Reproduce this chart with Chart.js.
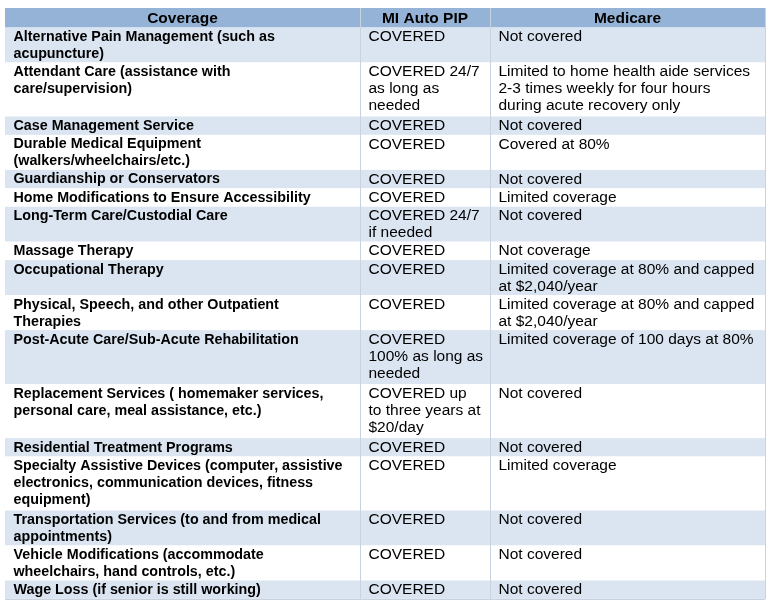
<!DOCTYPE html>
<html>
<head>
<meta charset="utf-8">
<script src="https://cdn.jsdelivr.net/npm/chart.js@4"></script>
<style>
	html, body { margin: 0; padding: 0; background: #ffffff; }
	#tableChart { display: block; }
</style>
</head>
<body>
<canvas id="tableChart" width="772" height="607"></canvas>
<script>
const headers = ['Coverage', 'MI Auto PIP', 'Medicare'];

const coverage = [
	'Alternative Pain Management (such as\nacupuncture)',
	'Attendant Care (assistance with\ncare/supervision)',
	'Case Management Service',
	'Durable Medical Equipment\n(walkers/wheelchairs/etc.)',
	'Guardianship or Conservators',
	'Home Modifications to Ensure Accessibility',
	'Long-Term Care/Custodial Care',
	'Massage Therapy',
	'Occupational Therapy',
	'Physical, Speech, and other Outpatient\nTherapies',
	'Post-Acute Care/Sub-Acute Rehabilitation',
	'Replacement Services ( homemaker services,\npersonal care, meal assistance, etc.)',
	'Residential Treatment Programs',
	'Specialty Assistive Devices (computer, assistive\nelectronics, communication devices, fitness\nequipment)',
	'Transportation Services (to and from medical\nappointments)',
	'Vehicle Modifications (accommodate\nwheelchairs, hand controls, etc.)',
	'Wage Loss (if senior is still working)'
];

const autoPip = [
	'COVERED',
	'COVERED 24/7\nas long as\nneeded',
	'COVERED',
	'COVERED',
	'COVERED',
	'COVERED',
	'COVERED 24/7\nif needed',
	'COVERED',
	'COVERED',
	'COVERED',
	'COVERED\n100% as long as\nneeded',
	'COVERED up\nto three years at\n$20/day',
	'COVERED',
	'COVERED',
	'COVERED',
	'COVERED',
	'COVERED'
];

const medicare = [
	'Not covered',
	'Limited to home health aide services\n2-3 times weekly for four hours\nduring acute recovery only',
	'Not covered',
	'Covered at 80%',
	'Not covered',
	'Limited coverage',
	'Not covered',
	'Not coverage',
	'Limited coverage at 80% and capped\nat $2,040/year',
	'Limited coverage at 80% and capped\nat $2,040/year',
	'Limited coverage of 100 days at 80%',
	'Not covered',
	'Not covered',
	'Limited coverage',
	'Not covered',
	'Not covered',
	'Not covered'
];

// layout (in scale units, same as px here)
const colEdges = [5, 360, 490, 765];
const headerTop = 8;
const headerHeight = 19.5;
const rowHeightByLines = [0, 18.4, 35, 54];
const lineStep = 17;
const cellPad = 8.5;

const headerColor = '#95b3d7';
const bandColor = '#dbe5f1';
const gridColor = '#c9d2df';
const textColor = '#000000';

const bodyFont = '15.5px "Liberation Sans", Arial, sans-serif';
const firstColFont = 'bold 14.3px "Liberation Sans", Arial, sans-serif';
const headerFont = 'bold 15.5px "Liberation Sans", Arial, sans-serif';

// row extents from the number of text lines in each row
const rows = coverage.map((c, i) => [c, autoPip[i], medicare[i]]);
const rowSpans = [];
let cursor = headerTop + headerHeight;
rows.forEach(cells => {
	const lines = Math.max(...cells.map(t => t.split('\n').length));
	const h = rowHeightByLines[lines];
	rowSpans.push([cursor, cursor + h]);
	cursor += h;
});

const tablePlugin = {
	id: 'tablePlugin',
	afterDraw(chart) {
		const ctx = chart.ctx;
		const x = chart.scales.x;
		const y = chart.scales.y;
		const left = x.getPixelForValue(colEdges[0]);
		const right = x.getPixelForValue(colEdges[3]);

		ctx.save();

		// header band
		const hTop = y.getPixelForValue(headerTop);
		const hBot = y.getPixelForValue(headerTop + headerHeight);
		ctx.fillStyle = headerColor;
		ctx.fillRect(left, hTop, right - left, hBot - hTop);

		// row bands
		rowSpans.forEach((span, i) => {
			const top = y.getPixelForValue(span[0]);
			const bot = y.getPixelForValue(span[1]);
			ctx.fillStyle = i % 2 === 0 ? bandColor : '#ffffff';
			ctx.fillRect(left, top, right - left, bot - top);
		});

		// grid lines
		const tableBottom = y.getPixelForValue(rowSpans[rowSpans.length - 1][1]);
		ctx.strokeStyle = gridColor;
		ctx.lineWidth = 1;
		[1, 2, 3].forEach(k => {
			const px = Math.round(x.getPixelForValue(colEdges[k])) + 0.5;
			ctx.beginPath();
			ctx.moveTo(px, hTop);
			ctx.lineTo(px, tableBottom);
			ctx.stroke();
		});
		ctx.beginPath();
		ctx.moveTo(left, Math.round(tableBottom) + 0.5);
		ctx.lineTo(right, Math.round(tableBottom) + 0.5);
		ctx.stroke();

		// header text
		ctx.fillStyle = textColor;
		ctx.textBaseline = 'middle';
		ctx.textAlign = 'center';
		ctx.font = headerFont;
		headers.forEach((h, k) => {
			const cx = x.getPixelForValue((colEdges[k] + colEdges[k + 1]) / 2);
			ctx.fillText(h, cx, (hTop + hBot) / 2 + 0.5);
		});

		// body text
		ctx.textAlign = 'left';
		rows.forEach((cells, i) => {
			const top = y.getPixelForValue(rowSpans[i][0]);
			cells.forEach((text, k) => {
				ctx.font = k === 0 ? firstColFont : bodyFont;
				const tx = x.getPixelForValue(colEdges[k] + cellPad);
				text.split('\n').forEach((line, j) => {
					ctx.fillText(line, tx, top + 9.5 + j * lineStep);
				});
			});
		});

		ctx.restore();
	}
};

const tableChartElement = document.getElementById('tableChart');
const tableChartInstance = new Chart(tableChartElement, {
	type: 'scatter',
	data: { datasets: [] },
	options: {
		responsive: false,
		animation: false,
		layout: { padding: 0 },
		plugins: {
			legend: { display: false },
			tooltip: { enabled: false }
		},
		scales: {
			x: { type: 'linear', min: 0, max: 772, display: false },
			y: { type: 'linear', min: 0, max: 607, reverse: true, display: false }
		}
	},
	plugins: [tablePlugin]
});
</script>
</body>
</html>
